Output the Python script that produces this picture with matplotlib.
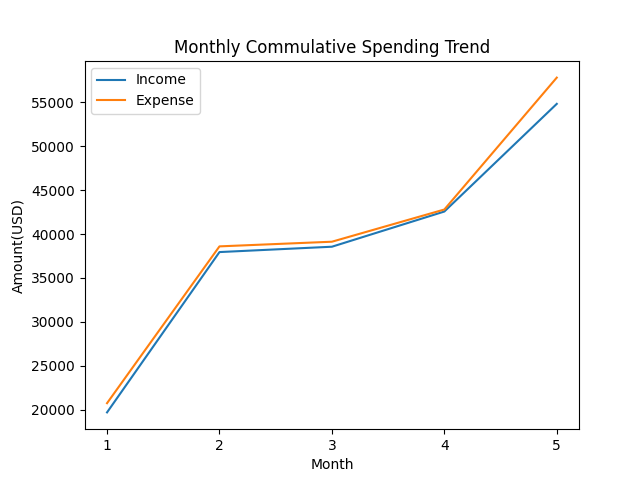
import matplotlib
matplotlib.use("Agg")
import matplotlib.pyplot as plt

# DATA ------------------------------------------------------------------------
months = [1, 2, 3, 4, 5]
income = [19680, 37950, 38560, 42570, 54840]
expense = [20730, 38600, 39130, 42800, 57830]

# PLOT ------------------------------------------------------------------------
fig = plt.figure(figsize=(6.31, 4.91), dpi=100)
fig.subplots_adjust(left=0.134, right=0.918, top=0.876, bottom=0.126)
ax = fig.add_subplot(1, 1, 1)
ax.plot(months, income, label='Income')
ax.plot(months, expense, label='Expense')
ax.set_xticks(months)
ax.set_title('Monthly Commulative Spending Trend')
ax.set_xlabel('Month')
ax.set_ylabel('Amount(USD)')
ax.legend(loc='upper left')

fig.savefig('out.png', dpi=100)
